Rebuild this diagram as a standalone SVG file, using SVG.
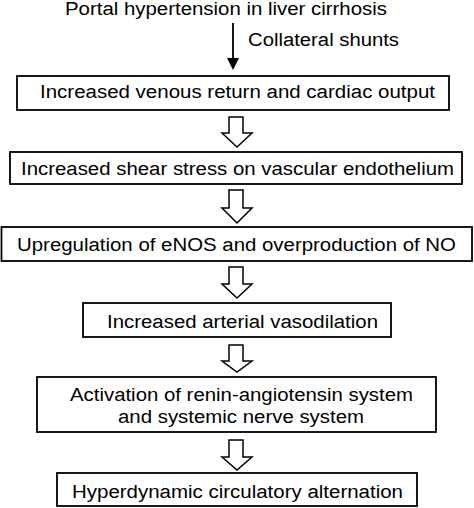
<svg xmlns="http://www.w3.org/2000/svg" width="474" height="508" viewBox="0 0 474 508">
<style>
  .box { fill: #fff; stroke: #000; stroke-width: 1.8; }
  .t { font-family: "Liberation Sans", Arial, sans-serif; font-size: 18px; fill: #000; }
  .hollow { fill: #fff; stroke: #000; stroke-width: 1.5; stroke-linejoin: miter; }
  .solid { stroke: #000; stroke-width: 1.8; fill: none; }
</style>
<rect width="474" height="508" fill="#fff"/>
<g id="start">
  <text class="t" x="65" y="15" textLength="322" lengthAdjust="spacingAndGlyphs">Portal hypertension in liver cirrhosis</text>
</g>
<g id="connectors">
  <line class="solid" x1="233" y1="23" x2="233" y2="60"/>
  <polygon points="227,58 239,58 233,70" fill="#000"/>
  <text class="t" x="248" y="46" textLength="151" lengthAdjust="spacingAndGlyphs">Collateral shunts</text>
  <polygon class="hollow" points="229,117 243,117 243,133 252,133 237,147 222,133 229,133"/>
  <polygon class="hollow" points="229,190 243,190 243,208 252,208 237,223 222,208 229,208"/>
  <polygon class="hollow" points="229,267 243,267 243,284 252,284 237,298 222,284 229,284"/>
  <polygon class="hollow" points="229,345 243,345 243,361 252,361 237,372 222,361 229,361"/>
  <polygon class="hollow" points="229,440 243,440 243,457 252,457 237,470 222,457 229,457"/>
</g>
<g id="n1">
  <rect class="box" x="17" y="76" width="432" height="34"/>
  <text class="t" x="40" y="98" textLength="395" lengthAdjust="spacingAndGlyphs">Increased venous return and cardiac output</text>
</g>
<g id="n2">
  <rect class="box" x="10" y="152" width="452" height="32"/>
  <text class="t" x="21" y="175" textLength="433" lengthAdjust="spacingAndGlyphs">Increased shear stress on vascular endothelium</text>
</g>
<g id="n3">
  <rect class="box" x="1.5" y="227" width="470.5" height="34"/>
  <text class="t" x="17" y="251" textLength="439" lengthAdjust="spacingAndGlyphs">Upregulation of eNOS and overproduction of NO</text>
</g>
<g id="n4">
  <rect class="box" x="83" y="303" width="308" height="34"/>
  <text class="t" x="107" y="328" textLength="271" lengthAdjust="spacingAndGlyphs">Increased arterial vasodilation</text>
</g>
<g id="n5">
  <rect class="box" x="37" y="377" width="399" height="55"/>
  <text class="t" x="70" y="401" textLength="343" lengthAdjust="spacingAndGlyphs">Activation of renin-angiotensin system</text>
  <text class="t" x="118" y="423" textLength="246" lengthAdjust="spacingAndGlyphs">and systemic nerve system</text>
</g>
<g id="n6">
  <rect class="box" x="57" y="473" width="360" height="33"/>
  <text class="t" x="72" y="498" textLength="331" lengthAdjust="spacingAndGlyphs">Hyperdynamic circulatory alternation</text>
</g>
</svg>
